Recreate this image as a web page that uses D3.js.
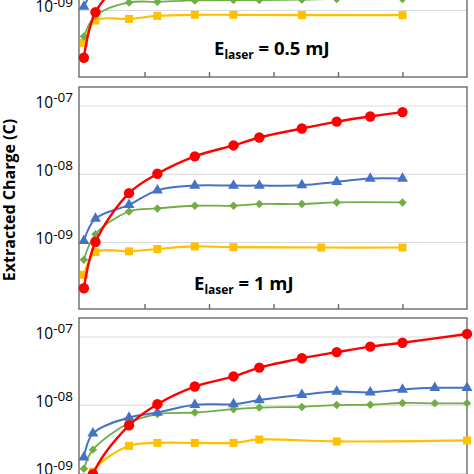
<!DOCTYPE html>
<html>
<head>
<meta charset="utf-8">
<script src="https://cdn.jsdelivr.net/npm/d3@7"></script>
<style>
  body { margin: 0; background: #fff; }
  text { font-family: "Open Sans", sans-serif; fill: #000; }
</style>
</head>
<body>
<div id="chart"></div>
<script>
// extracted charge vs x, three stacked log panels (0.5 mJ top, 1 mJ middle, bottom cropped)

// top panel (E = 0.5 mJ), mostly cropped above the picture
var xTop      = [0.3, 1.2, 3.8, 6.0, 8.9, 11.9, 13.9, 17.2, 19.9, 22.5, 25.0];
var redTop    = [2.0e-10, 9.3e-10, 3.2e-9, 5.0e-9, 7.0e-9, 9.0e-9, 1.0e-8, 1.2e-8, 1.4e-8, 1.6e-8, 1.8e-8];
var blueTop   = [1.12e-9, 2.0e-9, 3.0e-9, 4.0e-9, 4.5e-9, 4.5e-9, 4.6e-9, 4.6e-9, 4.8e-9, 5.0e-9, 5.0e-9];
var greenTop  = [4.1e-10, 8.2e-10, 1.29e-9, 1.32e-9, 1.38e-9, 1.4e-9, 1.4e-9, 1.42e-9, 1.45e-9, null, 1.45e-9];
var yellowTop = [3.3e-10, 7.0e-10, 7.4e-10, 8.2e-10, 8.5e-10, 8.5e-10, null, 8.4e-10, null, null, 8.4e-10];

// middle panel (E = 1 mJ)
var xMid      = [0.3, 1.2, 3.8, 6.0, 8.9, 11.9, 13.9, 17.2, 18.7, 19.9, 22.5, 25.0];
var redMid    = [2.1e-10, 1.0e-9, 5.2e-9, 1.0e-8, 1.8e-8, 2.6e-8, 3.4e-8, 4.6e-8, null, 5.8e-8, 6.9e-8, 8.0e-8];
var blueMid   = [1.04e-9, 2.2e-9, 3.5e-9, 5.7e-9, 6.7e-9, 6.7e-9, 6.7e-9, 6.8e-9, null, 7.6e-9, 8.5e-9, 8.5e-9];
var greenMid  = [5.5e-10, 1.3e-9, 2.8e-9, 3.1e-9, 3.4e-9, 3.4e-9, 3.6e-9, 3.6e-9, null, 3.8e-9, null, 3.8e-9];
var yellowMid = [3.3e-10, 7.1e-10, 7.3e-10, 7.9e-10, 8.6e-10, 8.4e-10, null, null, 8.3e-10, null, null, 8.3e-10];

// bottom panel, cropped below the picture
var xBot      = [0.3, 1.0, 3.8, 6.0, 8.9, 11.9, 13.9, 17.2, 19.9, 22.5, 25.0, 27.5, 30.0];
var redBot    = [2.0e-10, 9.6e-10, 5.0e-9, 1.02e-8, 1.85e-8, 2.6e-8, 3.5e-8, 4.8e-8, 5.9e-8, 7.1e-8, 8.1e-8, null, 1.09e-7];
var blueBot   = [1.7e-9, 3.8e-9, 6.5e-9, 7.7e-9, 1.0e-8, 1.02e-8, 1.17e-8, 1.4e-8, 1.56e-8, 1.52e-8, 1.67e-8, 1.77e-8, 1.77e-8];
var greenBot  = [1.15e-9, 2.2e-9, 5.4e-9, 7.3e-9, 7.7e-9, 8.6e-9, 9.1e-9, 9.3e-9, 9.9e-9, 1.0e-8, 1.06e-8, 1.05e-8, 1.05e-8];
var yellowBot = [3.0e-10, 1.05e-9, 2.5e-9, 2.76e-9, 2.76e-9, 2.76e-9, 3.1e-9, null, 2.9e-9, null, null, null, 3.0e-9];

var xTicks = [5, 10, 15, 20, 25];
var yTicks = [1e-9, 1e-8, 1e-7];
var labels = ["0.5 mJ", "1 mJ", null];

// step 1: size of the svg and of each panel
var svgWidth = 474;
var svgHeight = 474;
var plotLeft = 79;
var plotRight = 467;
var panelHeight = 222;
var panelTops = [-145, 87, 318];

var svg = d3.select("#chart")
    .append("svg")
    .attr("width", svgWidth)
    .attr("height", svgHeight);

var x = d3.scaleLinear()
    .domain([0, 30])
    .range([plotLeft + 1, plotRight]);

// series drawn bottom to top: yellow, green, blue, red
var styles = [
    { color: "#FFC000", width: 2.2, symbol: d3.symbolSquare, size: 64, rot: 0 },
    { color: "#70AD47", width: 1.8, symbol: d3.symbolSquare, size: 36, rot: 45 },
    { color: "#4472C4", width: 2.0, symbol: d3.symbolTriangle, size: 52, rot: 0 },
    { color: "#FF0000", width: 2.4, symbol: d3.symbolCircle, size: 85, rot: 0 }
];

var panels = [
    { xs: xTop, series: [yellowTop, greenTop, blueTop, redTop] },
    { xs: xMid, series: [yellowMid, greenMid, blueMid, redMid] },
    { xs: xBot, series: [yellowBot, greenBot, blueBot, redBot] }
];

panels.forEach(function(p, i) {
    var top = panelTops[i];
    var g = svg.append("g");

    var y = d3.scaleLog()
        .domain([1e-9, 1e-7])
        .range([top + 155, top + 18.5]);

    // gridlines and tick labels
    var yAxis = g.append("g")
        .attr("transform", `translate(${plotLeft},0)`)
        .call(d3.axisLeft(y)
            .tickValues(yTicks)
            .tickSize(-(plotRight - plotLeft))
            .tickPadding(6)
            .tickFormat(""));
    yAxis.select(".domain").remove();
    yAxis.selectAll(".tick line")
        .attr("stroke", "#d9d9d9")
        .attr("stroke-width", 1.2);
    // only label the gridlines that fall inside the picture
    yAxis.selectAll(".tick text").each(function(d) {
        var t = d3.select(this);
        if (y(d) < 0) { t.remove(); return; }
        t.attr("dy", "0.12em")
            .attr("font-size", 15.5)
            .attr("fill", "#000");
        t.append("tspan").text("10");
        t.append("tspan")
            .attr("dy", "-0.42em")
            .attr("font-size", 13.5)
            .text("-0" + Math.round(-Math.log10(d)));
    });

    // plot frame
    g.append("rect")
        .attr("x", plotLeft)
        .attr("y", top)
        .attr("width", plotRight - plotLeft)
        .attr("height", panelHeight)
        .attr("fill", "none")
        .attr("stroke", "#6b6b6b")
        .attr("stroke-width", 1.4);

    // x ticks point up from the bottom edge
    var xAxis = g.append("g")
        .attr("transform", `translate(0,${top + panelHeight})`)
        .call(d3.axisBottom(x).tickValues(xTicks).tickSize(-5).tickFormat(""));
    xAxis.select(".domain").remove();
    xAxis.selectAll(".tick line")
        .attr("stroke", "#6b6b6b")
        .attr("stroke-width", 1.4);

    var line = d3.line()
        .x(d => x(d[0]))
        .y(d => y(d[1]))
        .curve(d3.curveCatmullRom.alpha(0.5));

    p.series.forEach(function(vals, k) {
        var s = styles[k];
        var pts = d3.zip(p.xs, vals).filter(d => d[1] != null);

        g.append("path")
            .datum(pts)
            .attr("fill", "none")
            .attr("stroke", s.color)
            .attr("stroke-width", s.width)
            .attr("d", line);

        g.selectAll(null)
            .data(pts)
            .enter()
            .append("path")
            .attr("d", d3.symbol().type(s.symbol).size(s.size))
            .attr("transform", d => `translate(${x(d[0])},${y(d[1])}) rotate(${s.rot})`)
            .attr("fill", s.color);
    });

    // energy label
    if (labels[i]) {
        var lx = i === 0 ? 214 : 194;
        var ly = i === 0 ? 55 : 290;
        var lab = g.append("text")
            .attr("x", lx)
            .attr("y", ly)
            .attr("font-size", 18.5)
            .attr("font-weight", "bold");
        lab.append("tspan").text("E");
        lab.append("tspan").attr("font-size", 12).attr("dy", 4).text("laser");
        lab.append("tspan").attr("dy", -4).text(" = " + labels[i]);
    }
});

// y axis title
svg.append("text")
    .attr("transform", "translate(15,200) rotate(-90)")
    .attr("text-anchor", "middle")
    .attr("font-size", 16)
    .attr("font-weight", "bold")
    .text("Extracted Charge (C)");
</script>
</body>
</html>
